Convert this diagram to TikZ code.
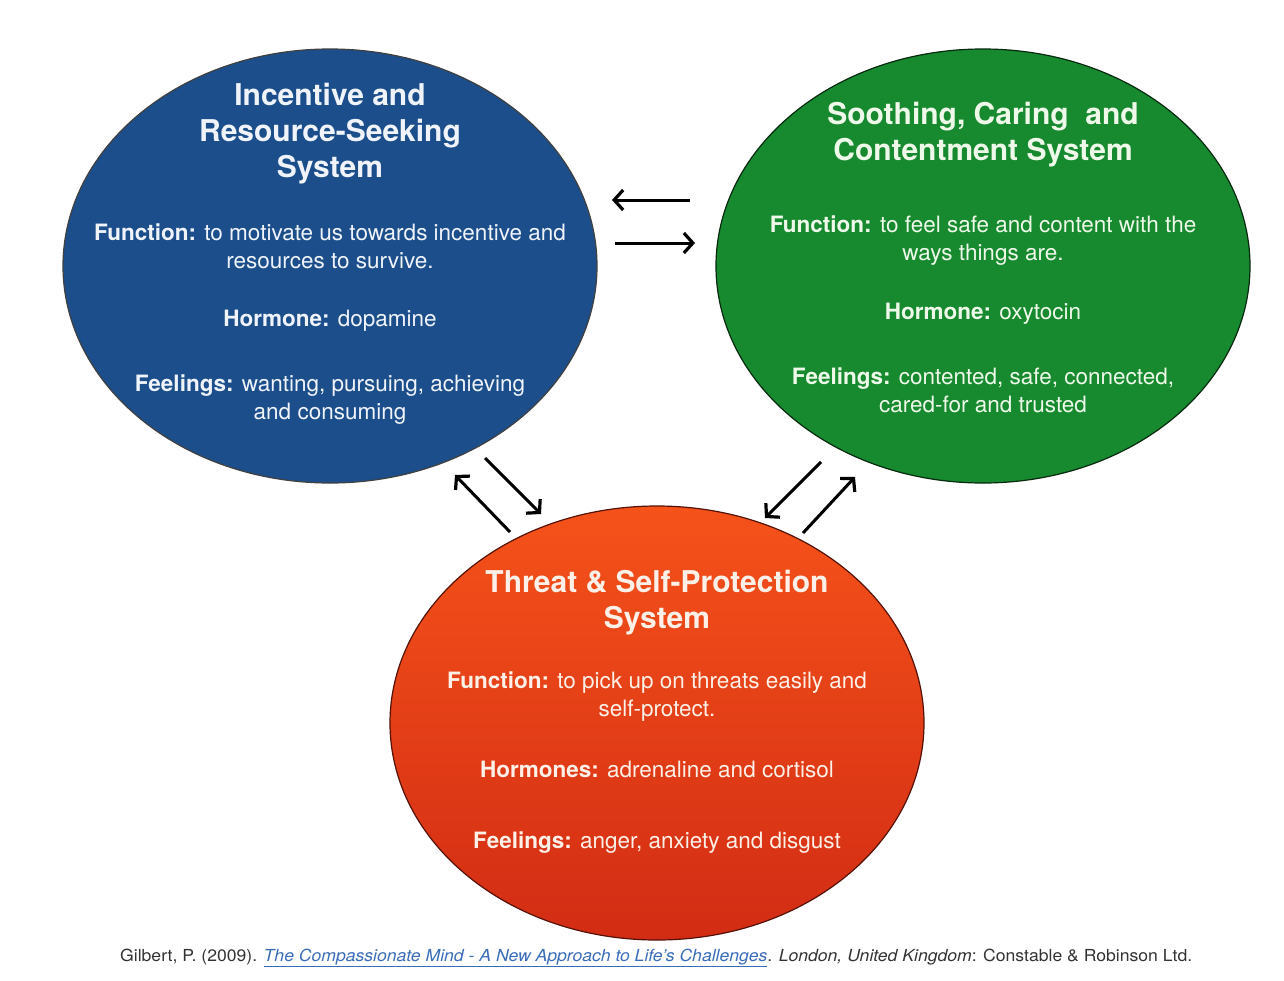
\documentclass[tikz,border=0pt]{standalone}
\usepackage{fontspec}
\setmainfont{TeX Gyre Heros}
\usepackage{graphicx}
\usetikzlibrary{shapes.geometric,arrows.meta}
\definecolor{incblue}{HTML}{1B4E8A}
\definecolor{soogreen}{HTML}{17892F}
\definecolor{thrtop}{HTML}{F5521A}
\definecolor{thrbot}{HTML}{D22C14}
\definecolor{linkblue}{HTML}{3A6DB8}
\definecolor{citegray}{HTML}{333333}
\definecolor{txtblue}{HTML}{F0F4FA}
\definecolor{txtgreen}{HTML}{EEF9EA}
\definecolor{txtred}{HTML}{FDF0E8}
\tikzset{
  sysellipse/.style={ellipse, inner sep=0pt, minimum width=534pt, minimum height=434pt, line width=1.2pt},
  titletext/.style={anchor=base, font=\fontsize{30}{36}\selectfont\bfseries},
  bodytext/.style={anchor=base, font=\fontsize{22.5}{28}\selectfont},
  flowarrow/.style={line width=3pt, -{Straight Barb[length=9pt,width=20pt,line width=3.2pt]}}
}
\begin{document}
\begin{tikzpicture}[x=1pt,y=-1pt]
\useasboundingbox (0,0) rectangle (1284,980);
\fill[white] (0,0) rectangle (1284,980);

% ellipses
\node[sysellipse, draw=black!75, fill=incblue] (inc) at (330,266) {};
\node[sysellipse, draw=black!70!soogreen, fill=soogreen] (soo) at (983,266) {};
\node[sysellipse, draw=black!60!thrbot, top color=thrtop, bottom color=thrbot] (thr) at (657,723) {};

% Incentive text
\begin{scope}[text=txtblue]
\node[titletext] (inct1) at (330,105) {Incentive and};
\node[titletext] (inct2) at (330,141) {Resource-Seeking};
\node[titletext] (inct3) at (330,177) {System};
\node[bodytext] (incf1) at (330,240) {\textbf{Function:} to motivate us towards incentive and};
\node[bodytext] (incf2) at (330,268) {resources to survive.};
\node[bodytext] (inch) at (330,326) {\textbf{Hormone:} dopamine};
\node[bodytext] (incl1) at (330,391) {\textbf{Feelings:} wanting, pursuing, achieving};
\node[bodytext] (incl2) at (330,419) {and consuming};
\end{scope}

% Soothing text
\begin{scope}[text=txtgreen]
\node[titletext] (soot1) at (983,124) {Soothing, Caring\ \ and};
\node[titletext] (soot2) at (983,160) {Contentment System};
\node[bodytext] (soof1) at (983,232) {\textbf{Function:} to feel safe and content with the};
\node[bodytext] (soof2) at (983,260) {ways things are.};
\node[bodytext] (sooh) at (983,319) {\textbf{Hormone:} oxytocin};
\node[bodytext] (sool1) at (983,384) {\textbf{Feelings:} contented, safe, connected,};
\node[bodytext] (sool2) at (983,412) {cared-for and trusted};
\end{scope}

% Threat text
\begin{scope}[text=txtred]
\node[titletext] (thrt1) at (657,592) {Threat \& Self-Protection};
\node[titletext] (thrt2) at (657,628) {System};
\node[bodytext] (thrf1) at (657,688) {\textbf{Function:} to pick up on threats easily and};
\node[bodytext] (thrf2) at (657,716) {self-protect.};
\node[bodytext] (thrh) at (657,777) {\textbf{Hormones:} adrenaline and cortisol};
\node[bodytext] (thrl) at (657,848) {\textbf{Feelings:} anger, anxiety and disgust};
\end{scope}

% arrow end points
\coordinate (a1s) at (690,200); \coordinate (a1e) at (612,200);
\coordinate (a2s) at (615,243); \coordinate (a2e) at (695,243);
\coordinate (a3s) at (510,532); \coordinate (a3e) at (455,475);
\coordinate (a4s) at (485,458); \coordinate (a4e) at (541,514);
\coordinate (a5s) at (821,462); \coordinate (a5e) at (765,518);
\coordinate (a6s) at (803,533); \coordinate (a6e) at (855,477);
\draw[flowarrow] (a1s) -- (a1e);
\draw[flowarrow] (a2s) -- (a2e);
\draw[flowarrow] (a3s) -- (a3e);
\draw[flowarrow] (a4s) -- (a4e);
\draw[flowarrow] (a5s) -- (a5e);
\draw[flowarrow] (a6s) -- (a6e);

% citation
\node[anchor=base west, inner sep=0pt, text=citegray] (cite) at (120,961)
  {\resizebox{1072pt}{12.4pt}{\fontsize{17}{20}\selectfont Gilbert, P. (2009). {\color{linkblue}\underline{\textit{The Compassionate Mind - A New Approach to Life's Challenges}}}. \textit{London, United Kingdom}: Constable \& Robinson Ltd.}};
\end{tikzpicture}
\end{document}
